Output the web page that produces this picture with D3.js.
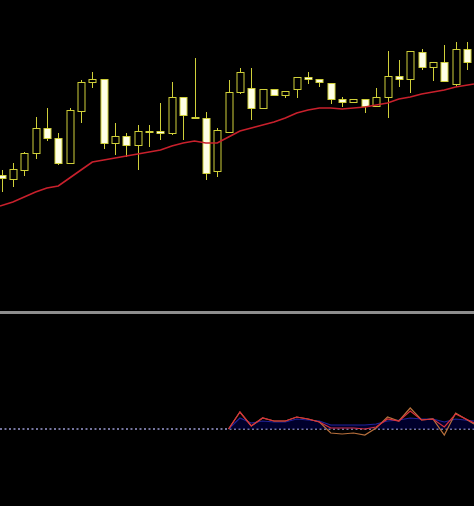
<html>
<head>
<script src="https://d3js.org/d3.v7.min.js"></script>
<style>
  body { margin: 0; background: #000; }
  svg { display: block; }
</style>
</head>
<body>
<script>
// price bars
const opens  = [1.3125,1.3121,1.3130,1.3147,1.3172,1.3162,1.3137,1.3189,1.3218,1.3221,
                1.3157,1.3164,1.3155,1.3169,1.3169,1.3167,1.3203,1.3183,1.3182,1.3129,
                1.3168,1.3208,1.3212,1.3192,1.3211,1.3205,1.3211,1.3223,1.3221,1.3217,
                1.3201,1.3198,1.3201,1.3194,1.3203,1.3224,1.3221,1.3248,1.3233,1.3238,
                1.3216,1.3251];
const highs  = [1.3130,1.3137,1.3148,1.3183,1.3192,1.3167,1.3192,1.3220,1.3228,1.3221,
                1.3177,1.3167,1.3175,1.3175,1.3197,1.3218,1.3203,1.3242,1.3188,1.3172,
                1.3220,1.3232,1.3232,1.3211,1.3211,1.3209,1.3223,1.3228,1.3221,1.3217,
                1.3203,1.3201,1.3201,1.3212,1.3249,1.3240,1.3249,1.3251,1.3238,1.3255,
                1.3258,1.3258];
const lows   = [1.3108,1.3113,1.3124,1.3141,1.3159,1.3135,1.3137,1.3177,1.3212,1.3151,
                1.3145,1.3143,1.3130,1.3153,1.3160,1.3165,1.3160,1.3183,1.3120,1.3123,
                1.3168,1.3206,1.3180,1.3192,1.3205,1.3202,1.3202,1.3216,1.3213,1.3196,
                1.3193,1.3198,1.3187,1.3194,1.3182,1.3213,1.3207,1.3230,1.3219,1.3219,
                1.3213,1.3230];
const closes = [1.3122,1.3131,1.3147,1.3172,1.3162,1.3137,1.3190,1.3218,1.3221,1.3157,
                1.3164,1.3155,1.3169,1.3169,1.3167,1.3203,1.3185,1.3183,1.3127,1.3170,
                1.3208,1.3228,1.3192,1.3211,1.3205,1.3209,1.3223,1.3221,1.3218,1.3201,
                1.3198,1.3201,1.3194,1.3203,1.3224,1.3221,1.3249,1.3233,1.3238,1.3219,
                1.3251,1.3238];
// moving average
const maValues = [1.3094,1.3098,1.3103,1.3108,1.3112,1.3114,1.3122,1.3130,1.3138,1.3140,
                  1.3142,1.3144,1.3146,1.3148,1.3150,1.3154,1.3157,1.3159,1.3157,1.3157,
                  1.3163,1.3169,1.3172,1.3175,1.3178,1.3182,1.3187,1.3190,1.3192,1.3192,
                  1.3191,1.3192,1.3193,1.3195,1.3197,1.3201,1.3203,1.3206,1.3208,1.3210,
                  1.3213,1.3216];
// lower panel, starts at bar 21
const oscStart = 20;
const oscRed    = [0,17,3,11,8,8,12,10,7,1,1,1,0,2,10,8,18,9,10,2,15,6];
const oscOrange = [0,17,3,11,8,8,12,10,7,-4,-5,-4,-6,1,12,8,21,9,10,-6,16,5];
const oscBlue   = [0,11,6,8,7,7,10,9,8,4,4,4,4,5,8,9,11,10,10,7,10,8];

const width = 474, height = 506;
const svg = d3.select('body').append('svg')
  .attr('width', width).attr('height', height)
  .style('background', '#000');

const x = d3.scaleLinear().domain([0, opens.length - 1]).range([1.5, 467]);
const y = d3.scaleLinear().domain([1.3000, 1.3300]).range([300, 0]);
const yOsc = d3.scaleLinear().domain([0, 20]).range([429, 409]);

const bars = opens.map((o, i) => ({i, o, h: highs[i], l: lows[i], c: closes[i]}));
const bw = 7;
const last = opens.length - 1;

// wicks
svg.append('g').selectAll('line').data(bars).join('line')
  .attr('x1', d => Math.round(x(d.i)) + 0.5)
  .attr('x2', d => Math.round(x(d.i)) + 0.5)
  .attr('y1', d => y(d.h))
  .attr('y2', d => y(d.l))
  .attr('stroke', '#d0d03a')
  .attr('stroke-width', 1);

// bodies: hollow = up, filled = down
svg.append('g').selectAll('rect').data(bars).join('rect')
  .attr('x', d => Math.round(x(d.i)) + 0.5 - bw / 2)
  .attr('y', d => Math.round(y(Math.max(d.o, d.c))) + 0.5)
  .attr('width', bw)
  .attr('height', d => Math.max(1, Math.round(Math.abs(y(d.o) - y(d.c)))))
  .attr('fill', d => d.c >= d.o ? '#000' : '#ffffe6')
  .attr('stroke', '#d0d03a')
  .attr('stroke-width', 1);

// moving average (runs to both edges)
svg.append('path')
  .datum(maValues)
  .attr('fill', 'none')
  .attr('stroke', '#c8202c')
  .attr('stroke-width', 1.6)
  .attr('d', d3.line().x((d, i) => i === 0 ? 0 : i === last ? width : x(i)).y(d => y(d)));

// panel separator
svg.append('line')
  .attr('x1', 0).attr('x2', width)
  .attr('y1', 312.5).attr('y2', 312.5)
  .attr('stroke', '#8e8e8e')
  .attr('stroke-width', 3);

// zero level
svg.append('line')
  .attr('x1', 0).attr('x2', width)
  .attr('y1', yOsc(0)).attr('y2', yOsc(0))
  .attr('stroke', '#9c9cd4')
  .attr('stroke-width', 1.5)
  .attr('stroke-dasharray', '2,2.5');

const ox = (d, i) => (i + oscStart) === last ? width : x(i + oscStart);

svg.append('path')
  .datum(oscBlue)
  .attr('fill', '#000050')
  .attr('opacity', 0.55)
  .attr('d', d3.area().x(ox).y0(yOsc(0)).y1(d => yOsc(d)));

svg.append('path')
  .datum(oscBlue)
  .attr('fill', 'none')
  .attr('stroke', '#22229a')
  .attr('stroke-width', 1.2)
  .attr('d', d3.line().x(ox).y(d => yOsc(d)));

svg.append('path')
  .datum(oscOrange)
  .attr('fill', 'none')
  .attr('stroke', '#b8703c')
  .attr('stroke-width', 1.2)
  .attr('d', d3.line().x(ox).y(d => yOsc(d)));

svg.append('path')
  .datum(oscRed)
  .attr('fill', 'none')
  .attr('stroke', '#d8303c')
  .attr('stroke-width', 1.2)
  .attr('d', d3.line().x(ox).y(d => yOsc(d)));
</script>
</body>
</html>
